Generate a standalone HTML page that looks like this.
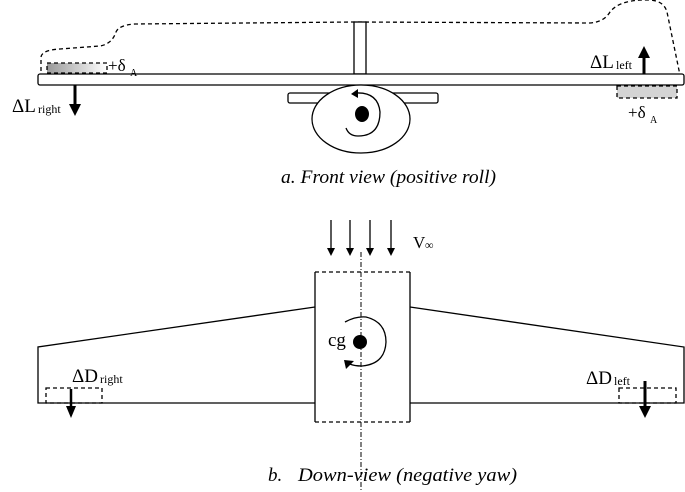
<!DOCTYPE html>
<html><head><style>
html,body{margin:0;padding:0;background:#fff;}
svg{display:block;}
text{font-family:"Liberation Serif",serif;fill:#000;}
</style></head><body>
<svg width="685" height="492" viewBox="0 0 685 492" xmlns="http://www.w3.org/2000/svg">
<defs>
<linearGradient id="g" x1="0" x2="1" y1="0" y2="0"><stop offset="0" stop-color="#999"/><stop offset="1" stop-color="#fff"/></linearGradient>
</defs>
<!-- front view -->
<path d="M41,85 L41,57 Q42,50 60,49 L100,46 Q112,44 116,32 Q119,25 135,24 L354,22 L590,23 Q604,22 610,12 Q620,-1 650,0 Q664,1 667,12 L681,80" fill="none" stroke="#000" stroke-width="1.3" stroke-dasharray="4,3"/>
<rect x="354" y="22" width="12" height="52" fill="#fff" stroke="#000" stroke-width="1.3"/>
<rect x="38" y="74" width="646" height="11" rx="2" fill="#fff" stroke="#000" stroke-width="1.3"/>
<rect x="47" y="63" width="60" height="10" fill="url(#g)" stroke="#000" stroke-width="1.3" stroke-dasharray="4,3"/>
<rect x="617" y="86" width="60" height="12" fill="#d4d4d4" stroke="#000" stroke-width="1.3" stroke-dasharray="4,3"/>
<text x="108" y="71" font-size="17">+δ</text><text x="130" y="76" font-size="10">A</text>
<text x="628" y="118" font-size="17">+δ</text><text x="650" y="123" font-size="10">A</text>
<line x1="75" y1="85" x2="75" y2="106" stroke="#000" stroke-width="3"/>
<polygon points="69,104 81,104 75,116" fill="#000"/>
<text x="12" y="112" font-size="19">ΔL</text><text x="38" y="113" font-size="12">right</text>
<line x1="644" y1="74" x2="644" y2="56" stroke="#000" stroke-width="3"/>
<polygon points="638,58 650,58 644,46" fill="#000"/>
<text x="590" y="68" font-size="19">ΔL</text><text x="616" y="69" font-size="12">left</text>
<rect x="288" y="93" width="150" height="10" rx="2" fill="#fff" stroke="#000" stroke-width="1.3"/>
<ellipse cx="361" cy="119" rx="49" ry="34" fill="#fff" stroke="#000" stroke-width="1.3"/>
<ellipse cx="362" cy="114" rx="7" ry="8" fill="#000"/>
<path d="M356,93 Q378,92 380,112 Q380,136 358,136 Q349,136 346,128" fill="none" stroke="#000" stroke-width="1.3"/>
<polygon points="351,94 358,89 358,98" fill="#000"/>
<text x="281" y="183" font-size="19" font-style="italic" textLength="215" lengthAdjust="spacingAndGlyphs">a. Front view (positive roll)</text>
<!-- down view -->
<g stroke="#000" stroke-width="1.3">
<line x1="331" y1="220" x2="331" y2="250"/><line x1="350" y1="220" x2="350" y2="250"/><line x1="370" y1="220" x2="370" y2="250"/><line x1="391" y1="220" x2="391" y2="250"/>
</g>
<g fill="#000"><polygon points="327,248 335,248 331,256"/><polygon points="346,248 354,248 350,256"/><polygon points="366,248 374,248 370,256"/><polygon points="387,248 395,248 391,256"/></g>
<text x="413" y="248" font-size="17">V</text><text x="425" y="249" font-size="12">∞</text>
<path d="M315,307 L38,347 L38,403 L315,403" fill="none" stroke="#000" stroke-width="1.3"/>
<path d="M410,307 L684,347 L684,403 L410,403" fill="none" stroke="#000" stroke-width="1.3"/>
<line x1="315" y1="272" x2="315" y2="422" stroke="#000" stroke-width="1.3"/>
<line x1="410" y1="272" x2="410" y2="422" stroke="#000" stroke-width="1.3"/>
<line x1="315" y1="272" x2="410" y2="272" stroke="#000" stroke-width="1.3" stroke-dasharray="4,3"/>
<line x1="315" y1="422" x2="410" y2="422" stroke="#000" stroke-width="1.3" stroke-dasharray="4,3"/>
<line x1="361" y1="252" x2="361" y2="492" stroke="#000" stroke-width="1" stroke-dasharray="5,2,1,2"/>
<rect x="46" y="388" width="56" height="15" fill="none" stroke="#000" stroke-width="1.3" stroke-dasharray="4,3"/>
<rect x="619" y="388" width="57" height="15" fill="none" stroke="#000" stroke-width="1.3" stroke-dasharray="4,3"/>
<line x1="71" y1="389" x2="71" y2="408" stroke="#000" stroke-width="2.5"/>
<polygon points="66,406 76,406 71,418" fill="#000"/>
<line x1="645" y1="381" x2="645" y2="408" stroke="#000" stroke-width="3"/>
<polygon points="639,406 651,406 645,418" fill="#000"/>
<text x="72" y="382" font-size="19">ΔD</text><text x="100" y="383" font-size="12">right</text>
<text x="586" y="384" font-size="19">ΔD</text><text x="614" y="385" font-size="12">left</text>
<circle cx="360" cy="342" r="7" fill="#000"/>
<text x="328" y="346" font-size="19">cg</text>
<path d="M345,322 Q356,316 366,317 Q386,322 386,342 Q385,364 362,366 Q354,366 350,364" fill="none" stroke="#000" stroke-width="1.3"/>
<polygon points="344,360 354,361 346,369" fill="#000"/>
<text x="268" y="481" font-size="19" font-style="italic">b.</text>
<text x="298" y="481" font-size="19" font-style="italic" textLength="219" lengthAdjust="spacingAndGlyphs">Down-view (negative yaw)</text>
</svg>
</body></html>
